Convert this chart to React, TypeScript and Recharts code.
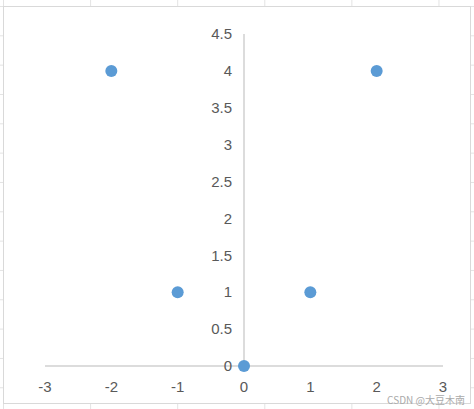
import { ScatterChart, Scatter, XAxis, YAxis, ReferenceLine } from 'recharts'

const xValues = [-2, -1, 0, 1, 2]
const yValues = [4, 1, 0, 1, 4]
const xTicks = [-3, -2, -1, 0, 1, 2, 3]
const yTicks = [0, 0.5, 1, 1.5, 2, 2.5, 3, 3.5, 4, 4.5]

const W = 474
const H = 409
const MARGIN = { top: 34, right: 31, bottom: 13, left: 44 }
const Y_AXIS_W = 1
const X_AXIS_H = 30
const TEXT = '#595959'
const AXIS = '#d0d0d0'
const DOT = '#5b9bd5'

const data = xValues.map((x, i) => ({ x, y: yValues[i] }))

// y labels sit next to the x = 0 line, not at the plot's left edge
const plotLeft = MARGIN.left + Y_AXIS_W
const plotW = W - plotLeft - MARGIN.right
const xMin = xTicks[0]
const xMax = xTicks[xTicks.length - 1]
const zeroX = plotLeft + (plotW * (0 - xMin)) / (xMax - xMin)

function renderYTick(props: any) {
  const { y, payload } = props
  return (
    <text x={zeroX - 12} y={y} dy="0.35em" textAnchor="end" fill={TEXT} fontSize={15}>
      {payload.value}
    </text>
  )
}

function Dot({ cx, cy }: any) {
  return <circle cx={cx} cy={cy} r={6} fill={DOT} />
}

export default function App() {
  return (
    <div
      style={{
        position: 'absolute',
        left: 0,
        top: 0,
        width: W,
        height: H,
        background: '#fff',
        backgroundImage:
          'linear-gradient(to right, #e3e3e3 1px, transparent 1px), linear-gradient(to bottom, #e3e3e3 1px, transparent 1px)',
        backgroundSize: '87.1px 29.33px',
        backgroundPosition: '3px 6px',
        fontFamily: '"Liberation Sans", Arial, sans-serif',
        overflow: 'hidden',
      }}
    >
      <div
        style={{
          position: 'absolute',
          left: 3,
          top: 6,
          width: 466,
          height: 396,
          background: '#fff',
          border: '1px solid #d9d9d9',
        }}
      />
      <div style={{ position: 'absolute', left: 0, top: 0 }}>
        <ScatterChart width={W} height={H} margin={MARGIN}>
          <XAxis
            type="number"
            dataKey="x"
            domain={[xMin, xMax]}
            ticks={xTicks}
            interval={0}
            height={X_AXIS_H}
            axisLine={{ stroke: AXIS, strokeWidth: 1.5 }}
            tickLine={false}
            tickSize={0}
            tickMargin={15}
            tick={{ fill: TEXT, fontSize: 15 }}
          />
          <YAxis
            type="number"
            dataKey="y"
            domain={[0, 4.5]}
            ticks={yTicks}
            interval={0}
            width={Y_AXIS_W}
            axisLine={false}
            tickLine={false}
            tick={renderYTick}
          />
          <ReferenceLine x={0} stroke={AXIS} strokeWidth={1.5} />
          <Scatter data={data} shape={<Dot />} isAnimationActive={false} />
        </ScatterChart>
      </div>
      <span
        style={{
          position: 'absolute',
          right: 9,
          top: 395,
          fontSize: 10,
          color: '#aaaaaa',
          fontFamily: '"Noto Sans CJK SC", sans-serif',
          lineHeight: '10px',
        }}
      >
        CSDN @大豆木南
      </span>
    </div>
  )
}
